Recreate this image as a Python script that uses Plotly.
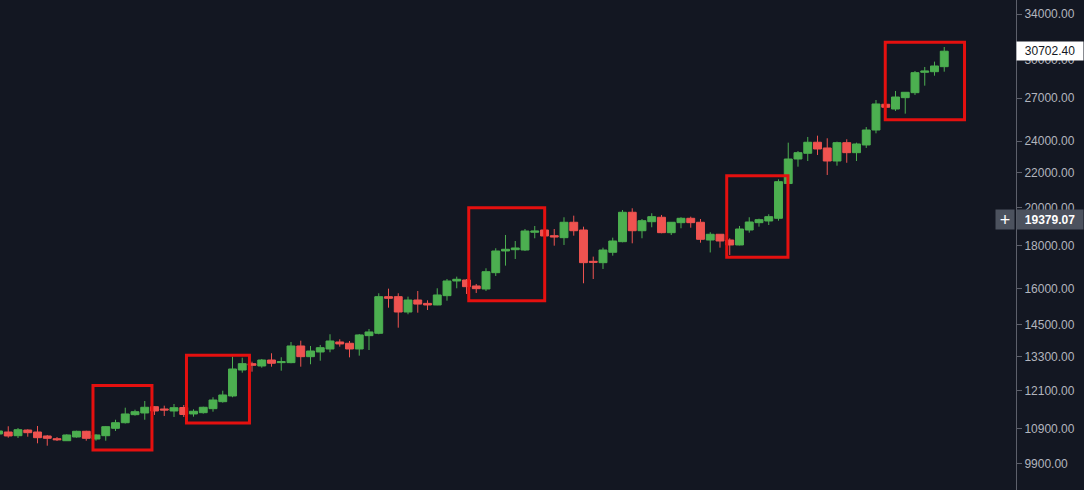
import math
import plotly.graph_objects as go

# ---------------- data (daily candles) ----------------
opens = [10748, 10807, 10698, 10866, 10807, 10690, 10610, 10552, 10660, 10828,
         10601, 10698, 10917, 11086, 11333, 11386, 11584, 11511, 11448, 11558,
         11355, 11395, 11521, 11744, 11929, 12810, 13034, 12952, 13166, 13071,
         13071, 13682, 13287, 13459, 13570, 13833, 13784, 13570, 14075, 14167,
         15663, 15663, 15018, 15520, 15377, 15310, 15706, 16351, 16395, 16129,
         15996, 16728, 17753, 17816, 17801, 18687, 18804, 18514, 18413, 19207,
         18804, 17258, 17193, 17690, 18212, 19741, 18768, 19238, 19472, 18667,
         19186, 19418, 19207, 18296, 18585, 18296, 18048, 18804, 19186, 19275,
         19418, 21359, 22846, 23208, 23919, 23547, 22721, 23893, 23246, 23742,
         24737, 26545, 26203, 27030, 27403, 28978, 29026, 29428]
highs = [10881, 10978, 10926, 10887, 10987, 10719, 10660, 10740, 10845, 10845,
         10740, 10987, 11177, 11552, 11489, 11766, 11606, 11616, 11670, 11638,
         11501, 11584, 11887, 12103, 13287, 13250, 13105, 13203, 13411, 13265,
         13833, 13882, 13682, 13720, 14129, 13935, 13870, 14140, 14335, 15809,
         16010, 15809, 15663, 15909, 15507, 16027, 16440, 16546, 16440, 16218,
         16931, 17885, 18550, 18246, 18856, 19013, 18856, 18856, 19472, 19558,
         18977, 17480, 17915, 18413, 19865, 19959, 19381, 19687, 19596, 19220,
         19472, 19505, 19381, 18688, 18600, 18382, 19013, 19472, 19397, 19634,
         21609, 23893, 23352, 24269, 24356, 24182, 23959, 24116, 23893, 24938,
         26858, 26567, 27530, 27432, 29081, 29403, 29838, 31060]
lows = [10689, 10640, 10631, 10669, 10477, 10409, 10543, 10543, 10640, 10552,
        10552, 10552, 10837, 11062, 11302, 11177, 11324, 11293, 11262, 11262,
        11271, 11364, 11426, 11712, 11887, 12716, 12751, 12892, 12927, 12785,
        13049, 12927, 13013, 13141, 13448, 13656, 13262, 13323, 13532, 14129,
        15197, 14386, 14925, 14990, 15100, 15300, 15491, 16027, 15778, 15822,
        15909, 16577, 17053, 17368, 17753, 18382, 18397, 18013, 18048, 18514,
        16249, 16440, 16898, 17527, 18180, 18131, 18382, 18945, 18637, 18550,
        18893, 18924, 18162, 17681, 17915, 17560, 18030, 18667, 18977, 19065,
        19290, 21334, 22370, 22721, 23099, 21867, 22431, 22612, 22721, 23547,
        24514, 26300, 26060, 25870, 27232, 27934, 28710, 29026]
closes = [10837, 10690, 10875, 10787, 10640, 10622, 10581, 10719, 10828, 10622,
          10719, 10966, 11086, 11355, 11426, 11565, 11448, 11479, 11552, 11339,
          11439, 11565, 11798, 11962, 12846, 13034, 12977, 13166, 13049, 13105,
          13682, 13287, 13495, 13618, 13870, 13758, 13570, 14102, 14218, 15663,
          15593, 15018, 15520, 15347, 15310, 15736, 16351, 16427, 16098, 16010,
          16773, 17753, 17836, 17900, 18753, 18753, 18499, 18448, 19207, 18768,
          17193, 17212, 17801, 18246, 19741, 18768, 19290, 19505, 18667, 19207,
          19418, 19186, 18331, 18585, 18246, 18048, 18856, 19222, 19343, 19505,
          21469, 22846, 23246, 23919, 23482, 22721, 23893, 23246, 23808, 24737,
          26567, 26327, 27080, 27432, 28948, 29081, 29485, 30702.40]
candle_idx = list(range(len(opens)))

price_ticks = [9900, 10900, 12100, 13300, 14500, 16000, 18000, 20000,
               22000, 24000, 27000, 30000, 34000]
last_price = 30702.40
cursor_price = 19379.07

# highlighted stretches: (first candle edge, last candle edge, low price, high price)
highlight_boxes = [
    (9.69, 15.74, 10286, 12278),
    (19.28, 25.74, 11077, 13338),
    (48.23, 56.02, 15491, 19987),
    (74.69, 80.97, 17450, 21826),
    (90.95, 99.08, 25446, 31463),
]

# ---------------- styles ----------------
BG = "#131722"
UP = "#4CAF50"
DOWN = "#EF5350"
AXIS = "#5d606b"
TXT = "#b2b5be"
BOX = "#e5100f"
FONT = "Liberation Sans, Arial, sans-serif"

fig = go.Figure(go.Candlestick(
    x=candle_idx, open=opens, high=highs, low=lows, close=closes,
    increasing=dict(line=dict(color=UP, width=1), fillcolor=UP),
    decreasing=dict(line=dict(color=DOWN, width=1), fillcolor=DOWN),
    whiskerwidth=0, showlegend=False, hoverinfo="skip",
))

for x0, x1, y0, y1 in highlight_boxes:
    fig.add_shape(type="rect", xref="x", yref="y", x0=x0, x1=x1, y0=y0, y1=y1,
                  line=dict(color=BOX, width=3), fillcolor="rgba(0,0,0,0)", layer="above")

fig.update_layout(
    width=1084, height=490,
    margin=dict(l=0, r=68, t=0, b=0),
    paper_bgcolor=BG, plot_bgcolor=BG,
    boxgap=0.1, boxgroupgap=0.1,
    xaxis=dict(range=[0.154, 104.36], visible=False, showgrid=False,
               rangeslider=dict(visible=False), fixedrange=True),
    yaxis=dict(type="log", side="right",
               range=[math.log10(9218), math.log10(35331)],
               tickvals=price_ticks, ticktext=[f"{v:.2f}" for v in price_ticks],
               showgrid=False, zeroline=False,
               showline=True, linecolor=AXIS, linewidth=1,
               ticks="outside", ticklen=5, tickcolor=AXIS,
               tickfont=dict(color=TXT, size=12, family=FONT), fixedrange=True),
    font=dict(family=FONT),
)

# last price label on the price scale
fig.add_annotation(xref="paper", yref="y", x=1, y=math.log10(last_price),
                   xanchor="left", yanchor="middle", showarrow=False,
                   text=f"{last_price:.2f}", font=dict(color="#131722", size=12, family=FONT),
                   bgcolor="#ffffff", width=62, height=14, borderpad=2, align="center")
# crosshair price label
fig.add_annotation(xref="paper", yref="y", x=1, y=math.log10(cursor_price),
                   xanchor="left", yanchor="middle", showarrow=False,
                   text=f"<b>{cursor_price:.2f}</b>", font=dict(color="#ffffff", size=12, family=FONT),
                   bgcolor="#4c525e", width=62, height=15, borderpad=2, align="center")
# crosshair cursor marker
fig.add_annotation(xref="paper", yref="y", x=1, y=math.log10(cursor_price),
                   xanchor="right", yanchor="middle", showarrow=False, xshift=-1,
                   text="+", font=dict(color="#ffffff", size=18, family=FONT),
                   bgcolor="#4c525e", width=14, height=15, borderpad=2, align="center")

fig.write_html("out.html", config={"displayModeBar": False},
               post_script="document.body.style.margin='0';")
